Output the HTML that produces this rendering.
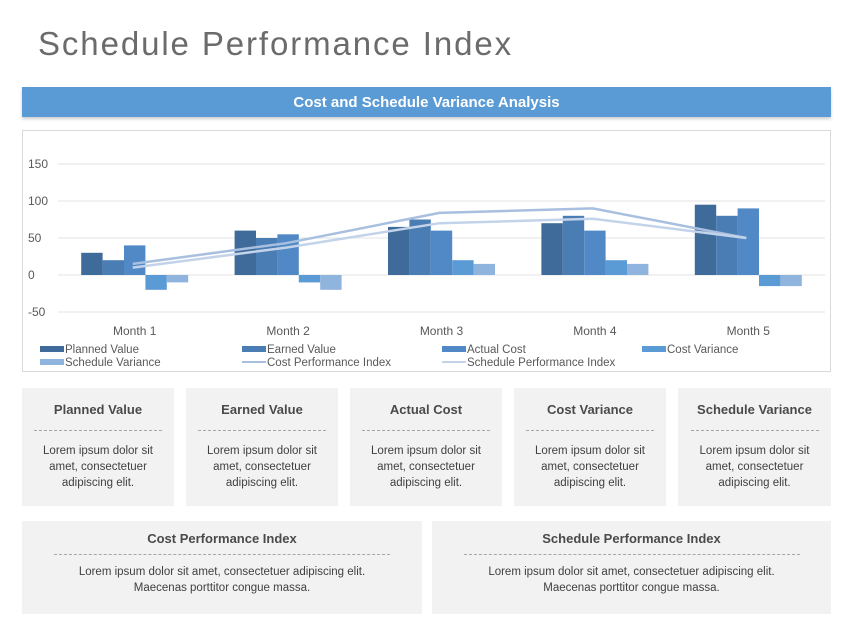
<!DOCTYPE html>
<html><head><meta charset="utf-8">
<style>
body{margin:0;width:853px;height:640px;background:#fff;font-family:"Liberation Sans",sans-serif;position:relative;overflow:hidden}
.title{position:absolute;left:38px;top:25px;font-size:33px;color:#6b6b6b;letter-spacing:1.9px}
.banner{position:absolute;left:22px;top:87px;width:809px;height:30px;background:#5b9bd5;color:#fff;font-weight:bold;font-size:15px;text-align:center;line-height:31px;box-shadow:0 2px 3px rgba(0,0,0,.2)}
.chartbox{position:absolute;left:22px;top:130px;width:809px;height:242px;border:1px solid #d9d9d9;box-sizing:border-box}
.card{position:absolute;background:#f2f2f2;text-align:center;color:#404040;box-sizing:border-box}
.card h3{margin:0;font-size:13px;font-weight:bold;color:#4a4a4a}
.card .dash{border-top:1px dashed #a6a6a6;margin:0 auto}
.card p{margin:0;font-size:11.5px;line-height:16px}
</style></head><body>
<div class="title">Schedule Performance Index</div>
<div class="banner">Cost and Schedule Variance Analysis</div>
<div class="chartbox"></div>
<svg id="chart" width="853" height="640" style="position:absolute;left:0;top:0" font-family="Liberation Sans, sans-serif"></svg>

<div class="card" style="left:22px;top:388px;width:152px;height:118px"><h3 style="margin-top:14px">Planned Value</h3><div class="dash" style="width:128px;margin-top:13px;margin-bottom:12px"></div><p>Lorem ipsum dolor sit<br>amet, consectetuer<br>adipiscing elit.</p></div>
<div class="card" style="left:186px;top:388px;width:152px;height:118px"><h3 style="margin-top:14px">Earned Value</h3><div class="dash" style="width:128px;margin-top:13px;margin-bottom:12px"></div><p>Lorem ipsum dolor sit<br>amet, consectetuer<br>adipiscing elit.</p></div>
<div class="card" style="left:350px;top:388px;width:152px;height:118px"><h3 style="margin-top:14px">Actual Cost</h3><div class="dash" style="width:128px;margin-top:13px;margin-bottom:12px"></div><p>Lorem ipsum dolor sit<br>amet, consectetuer<br>adipiscing elit.</p></div>
<div class="card" style="left:514px;top:388px;width:152px;height:118px"><h3 style="margin-top:14px">Cost Variance</h3><div class="dash" style="width:128px;margin-top:13px;margin-bottom:12px"></div><p>Lorem ipsum dolor sit<br>amet, consectetuer<br>adipiscing elit.</p></div>
<div class="card" style="left:678px;top:388px;width:153px;height:118px"><h3 style="margin-top:14px">Schedule Variance</h3><div class="dash" style="width:128px;margin-top:13px;margin-bottom:12px"></div><p>Lorem ipsum dolor sit<br>amet, consectetuer<br>adipiscing elit.</p></div>
<div class="card" style="left:22px;top:521px;width:400px;height:93px"><h3 style="margin-top:10px">Cost Performance Index</h3><div class="dash" style="width:336px;margin-top:8px;margin-bottom:9px"></div><p>Lorem ipsum dolor sit amet, consectetuer adipiscing elit.<br>Maecenas porttitor congue massa.</p></div>
<div class="card" style="left:432px;top:521px;width:399px;height:93px"><h3 style="margin-top:10px">Schedule Performance Index</h3><div class="dash" style="width:336px;margin-top:8px;margin-bottom:9px"></div><p>Lorem ipsum dolor sit amet, consectetuer adipiscing elit.<br>Maecenas porttitor congue massa.</p></div>

<script>
const categories=["Month 1","Month 2","Month 3","Month 4","Month 5"];
const plannedValue=[30,60,65,70,95];
const earnedValue=[20,50,75,80,80];
const actualCost=[40,55,60,60,90];
const costVariance=[-20,-10,20,20,-15];
const scheduleVariance=[-10,-20,15,15,-15];
const cpi=[15,43,84,90,50];
const spi=[10,37,70,76,50];
const yTicks=[-50,0,50,100,150];
const barSeries=[["Planned Value",plannedValue,"#3e6b9a"],["Earned Value",earnedValue,"#4a7db3"],["Actual Cost",actualCost,"#5089c6"],["Cost Variance",costVariance,"#5b9bd5"],["Schedule Variance",scheduleVariance,"#8fb4de"]];
const lineSeries=[["Cost Performance Index",cpi,"#a8bfe0"],["Schedule Performance Index",spi,"#c3d3ea"]];
const NS="http://www.w3.org/2000/svg";
const svg=document.getElementById("chart");
const x0=58,x1=825,step=(x1-x0)/categories.length;
const y=v=>275-v*0.74;
const xc=i=>x0+step*(i+0.5);
function mk(t,a){const e=document.createElementNS(NS,t);for(const k in a)e.setAttribute(k,a[k]);svg.appendChild(e);return e;}
yTicks.forEach(t=>{
  const l=mk("line",{x1:x0,x2:x1,y1:y(t),y2:y(t),stroke:"#e3e3e3","stroke-width":1});
  
  
  const tx=mk("text",{x:28,y:y(t)+4,"font-size":12,fill:"#595959"});tx.textContent=t;
  
  
});
const bw=21.4;
categories.forEach((c,i)=>{
  barSeries.forEach((s,j)=>{
    const v=s[1][i];const bx=xc(i)-bw*2.5+j*bw;
    const r=mk("rect",{x:bx,y:Math.min(y(v),y(0)),width:bw,height:Math.abs(y(v)-y(0)),fill:s[2]});
    
    
  });
  const t=mk("text",{x:xc(i),y:335,"font-size":12,fill:"#595959","text-anchor":"middle"});t.textContent=c;
  
  
});
lineSeries.forEach(s=>{
  const p=mk("polyline",{points:s[1].map((v,i)=>(xc(i)-2)+","+y(v)).join(" "),fill:"none",stroke:s[2],"stroke-width":2.5});
  
  
});
const legend=[[barSeries[0],40,349,0],[barSeries[1],242,349,0],[barSeries[2],442,349,0],[barSeries[3],642,349,0],[barSeries[4],40,362,0],[lineSeries[0],242,362,1],[lineSeries[1],442,362,1]];
legend.forEach(l=>{
  const s=l[0];
  if(l[3]){const m=mk("line",{x1:l[1],x2:l[1]+24,y1:l[2],y2:l[2],stroke:s[2],"stroke-width":2});}
  else{const m=mk("rect",{x:l[1],y:l[2]-3,width:24,height:6,fill:s[2]});}
  const t=mk("text",{x:l[1]+25,y:l[2]+4,"font-size":11.5,fill:"#595959"});t.textContent=s[0];
  
  
});
</script>
</body></html>
